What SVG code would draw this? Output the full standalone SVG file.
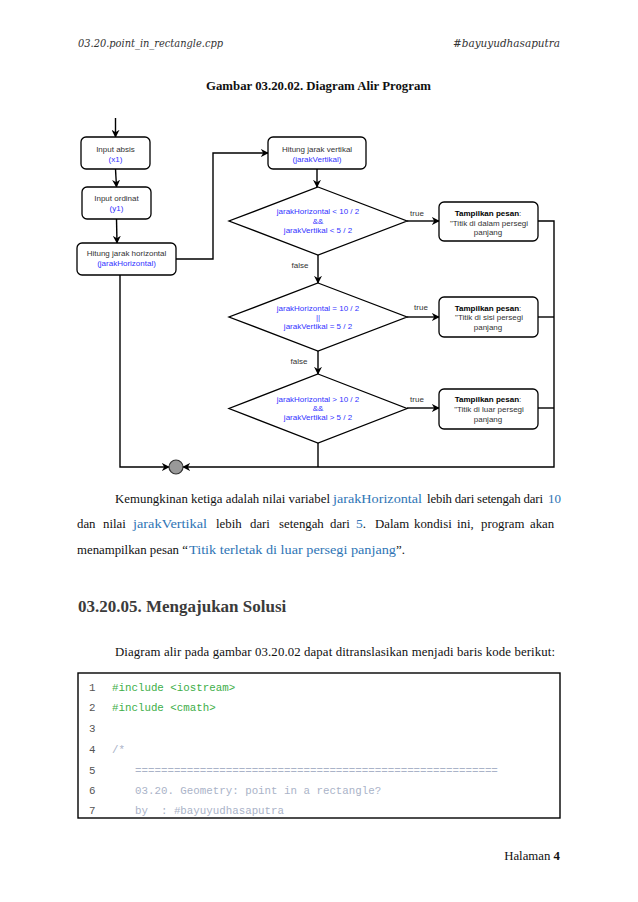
<svg xmlns="http://www.w3.org/2000/svg" width="638" height="902" viewBox="0 0 638 902">
<defs>
<marker id="ah" viewBox="0 0 10 10" refX="9" refY="5" markerWidth="8" markerHeight="8" markerUnits="userSpaceOnUse" orient="auto">
<path d="M0,0 L10,5 L0,10 L3,5 Z" fill="#000"/>
</marker>
</defs>
<style>
.bx{fill:#fff;stroke:#000;stroke-width:1.3}
.ln{fill:none;stroke:#000;stroke-width:1.4}
.t{font-family:"Liberation Sans",Arial,sans-serif;font-size:8px;fill:#333;text-anchor:middle}
.b{fill:#3333ff}
.bd{font-weight:bold}
.ser{font-family:"Liberation Serif","Times New Roman",serif;font-size:12.8px;fill:#111}
.blu{fill:#2e74b5}
.hd{font-family:"DejaVu Serif",serif;font-style:italic;font-size:11px;fill:#333}
.mono{font-family:"Liberation Mono","Courier New",monospace;font-size:10.8px}
.num{fill:#555}
.grn{fill:#3dae48}
.cm{fill:#aab3c8}
</style>
<rect x="0" y="0" width="638" height="902" fill="#fff"/>

<!-- page header -->
<text class="hd" x="78" y="47" textLength="145" lengthAdjust="spacingAndGlyphs">03.20.point_in_rectangle.cpp</text>
<text class="hd" x="453" y="47" textLength="107" lengthAdjust="spacingAndGlyphs">#bayuyudhasaputra</text>
<text class="ser bd" x="318.5" y="90" text-anchor="middle" fill="#222">Gambar 03.20.02. Diagram Alir Program</text>

<!-- connectors -->
<g id="connectors">
<path class="ln" d="M115.5,118 L115.5,137" marker-end="url(#ah)"/>
<path class="ln" d="M115.5,169 L116.5,187" marker-end="url(#ah)"/>
<path class="ln" d="M116.5,219 L117,243" marker-end="url(#ah)"/>
<path class="ln" d="M176,259 L213,259 L213,153 L268,153" marker-end="url(#ah)"/>
<path class="ln" d="M317,169 L317,187" marker-end="url(#ah)"/>
<path class="ln" d="M318,255 L318,283" marker-end="url(#ah)"/>
<path class="ln" d="M318,351 L318,374" marker-end="url(#ah)"/>
<path class="ln" d="M407,221 L439,221" marker-end="url(#ah)"/>
<path class="ln" d="M407,317 L439,317" marker-end="url(#ah)"/>
<path class="ln" d="M407,408 L439,408" marker-end="url(#ah)"/>
<path class="ln" d="M538,221 L554,221 L554,467 L183,467" marker-end="url(#ah)"/>
<path class="ln" d="M538,317 L554,317"/>
<path class="ln" d="M538,408 L554,408"/>
<path class="ln" d="M318,443 L318,467"/>
<path class="ln" d="M120,275 L120,467 L169,467" marker-end="url(#ah)"/>
<text class="t" x="417" y="216">true</text>
<text class="t" x="421" y="310">true</text>
<text class="t" x="417" y="402">true</text>
<text class="t" x="300" y="268">false</text>
<text class="t" x="299" y="364">false</text>
</g>

<!-- nodes -->
<g id="input-absis">
<rect class="bx" x="81" y="137" width="69" height="32" rx="5"/>
<text class="t" x="115.5" y="152">Input absis</text>
<text class="t b" x="115.5" y="162">(x1)</text>
</g>
<g id="input-ordinat">
<rect class="bx" x="82" y="187" width="69" height="32" rx="5"/>
<text class="t" x="116.5" y="201">Input ordinat</text>
<text class="t b" x="116.5" y="211">(y1)</text>
</g>
<g id="hitung-horizontal">
<rect class="bx" x="77" y="243" width="99" height="32" rx="5"/>
<text class="t" x="126.5" y="256">Hitung jarak horizontal</text>
<text class="t b" x="126.5" y="266">(jarakHorizontal)</text>
</g>
<g id="hitung-vertikal">
<rect class="bx" x="268" y="137" width="98" height="32" rx="5"/>
<text class="t" x="317" y="152">Hitung jarak vertikal</text>
<text class="t b" x="317" y="162">(jarakVertikal)</text>
</g>
<g id="cek-dalam">
<polygon class="bx" points="318,187 407,221 318,255 229,221"/>
<text class="t b" x="318" y="214.3">jarakHorizontal &lt; 10 / 2</text>
<text class="t b" x="318" y="223.8">&amp;&amp;</text>
<text class="t b" x="318" y="233.3">jarakVertikal &lt; 5 / 2</text>
</g>
<g id="cek-sisi">
<polygon class="bx" points="318,283 407,317 318,351 229,317"/>
<text class="t b" x="318" y="310.5">jarakHorizontal = 10 / 2</text>
<text class="t b" x="318" y="319.8">||</text>
<text class="t b" x="318" y="329">jarakVertikal = 5 / 2</text>
</g>
<g id="cek-luar">
<polygon class="bx" points="318,374 407,408.5 318,443 229,408.5"/>
<text class="t b" x="318" y="402">jarakHorizontal &gt; 10 / 2</text>
<text class="t b" x="318" y="411">&amp;&amp;</text>
<text class="t b" x="318" y="420">jarakVertikal &gt; 5 / 2</text>
</g>
<g id="pesan-dalam">
<rect class="bx" x="439" y="202" width="99" height="39" rx="5"/>
<text class="t" x="488" y="216"><tspan class="bd" fill="#000">Tampilkan pesan</tspan>:</text>
<text class="t" x="489" y="225.5">"Titik di dalam persegi</text>
<text class="t" x="488" y="235">panjang</text>
</g>
<g id="pesan-sisi">
<rect class="bx" x="439" y="297" width="99" height="40" rx="5"/>
<text class="t" x="488" y="310.5"><tspan class="bd" fill="#000">Tampilkan pesan</tspan>:</text>
<text class="t" x="489" y="320">"Titik di sisi persegi</text>
<text class="t" x="488" y="330">panjang</text>
</g>
<g id="pesan-luar">
<rect class="bx" x="439" y="389" width="99" height="40" rx="5"/>
<text class="t" x="488" y="402"><tspan class="bd" fill="#000">Tampilkan pesan</tspan>:</text>
<text class="t" x="489" y="412">"Titik di luar persegi</text>
<text class="t" x="488" y="422">panjang</text>
</g>
<g id="merge">
<circle cx="176" cy="467" r="7" fill="#999" stroke="#333" stroke-width="1.2"/>
</g>

<!-- paragraph -->
<g class="ser">
<text x="115" y="503" textLength="215" lengthAdjust="spacing">Kemungkinan ketiga adalah nilai variabel</text>
<text class="blu" x="333" y="503" font-size="13.5" textLength="89" lengthAdjust="spacingAndGlyphs">jarakHorizontal</text>
<text x="427" y="503" textLength="116" lengthAdjust="spacing">lebih dari setengah dari</text>
<text class="blu" x="548" y="503" font-size="13.5" textLength="13" lengthAdjust="spacingAndGlyphs">10</text>

<text x="77" y="528">dan</text>
<text x="103" y="528">nilai</text>
<text class="blu" x="133" y="528" font-size="13.5" textLength="74" lengthAdjust="spacingAndGlyphs">jarakVertikal</text>
<text x="216" y="528">lebih</text>
<text x="250" y="528">dari</text>
<text x="279" y="528">setengah</text>
<text x="330" y="528">dari</text>
<text x="356" y="528"><tspan class="blu" font-size="13.5">5</tspan>.</text>
<text x="375" y="528">Dalam</text>
<text x="414" y="528">kondisi</text>
<text x="457" y="528">ini,</text>
<text x="481" y="528">program</text>
<text x="530" y="528">akan</text>

<text x="77" y="554">menampilkan pesan “</text>
<text class="blu" x="189" y="554" font-size="13.5" textLength="207" lengthAdjust="spacingAndGlyphs">Titik terletak di luar persegi panjang</text>
<text x="396" y="554">”.</text>
</g>

<text x="78" y="612" font-family="Liberation Serif, Times New Roman, serif" font-weight="bold" font-size="17" fill="#3b3b3b">03.20.05. Mengajukan Solusi</text>
<text class="ser" x="115" y="656" textLength="440" lengthAdjust="spacing">Diagram alir pada gambar 03.20.02 dapat ditranslasikan menjadi baris kode berikut:</text>

<!-- code block -->
<g id="code">
<rect x="78" y="673" width="482" height="145" fill="#fff" stroke="#000" stroke-width="1.4"/>
<g class="mono">
<text class="num" x="89" y="690.5">1</text>
<text class="num" x="89" y="711">2</text>
<text class="num" x="89" y="731.5">3</text>
<text class="num" x="89" y="752.5">4</text>
<text class="num" x="89" y="773.5">5</text>
<text class="num" x="89" y="793.5">6</text>
<text class="num" x="89" y="814">7</text>
<text class="grn" x="112" y="690.5">#include &lt;iostream&gt;</text>
<text class="grn" x="112" y="711">#include &lt;cmath&gt;</text>
<text class="cm" x="112" y="752.5">/*</text>
<text class="cm" x="135" y="773.5">========================================================</text>
<text class="cm" x="135" y="793.5">03.20. Geometry: point in a rectangle?</text>
<text class="cm" x="135" y="814" xml:space="preserve">by  : #bayuyudhasaputra</text>
</g>
</g>

<text class="ser" x="560" y="860" text-anchor="end">Halaman <tspan font-weight="bold">4</tspan></text>
</svg>
